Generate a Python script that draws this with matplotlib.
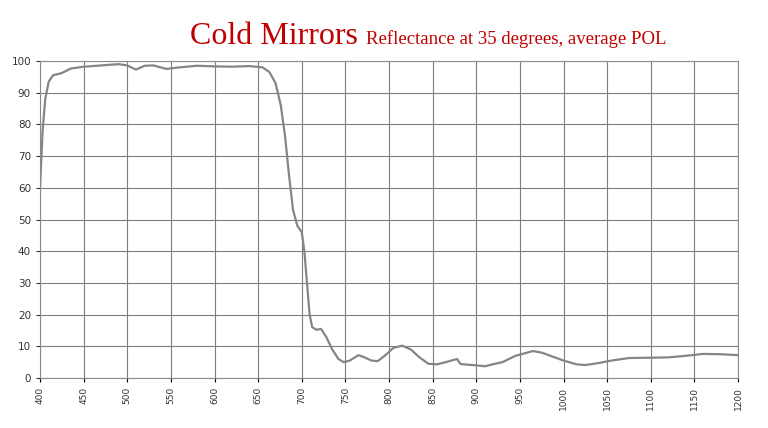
import matplotlib
matplotlib.use("Agg")
import matplotlib.pyplot as plt
import numpy as np
from matplotlib.ticker import MultipleLocator

wavelength = [400,403,406,410,415,425,435,450,470,490,500,510,520,530,545,560,580,600,620,640,655,663,670,676,681,685,690,695,700,703,706,709,712,717,722,728,735,742,748,755,765,772,780,787,795,805,815,825,835,845,855,865,878,882,890,900,910,920,930,945,965,975,990,1000,1015,1025,1040,1055,1075,1100,1120,1140,1160,1180,1200]
reflectance = [60,78,88,93.5,95.5,96.2,97.6,98.2,98.6,99.0,98.6,97.3,98.5,98.6,97.5,98.0,98.5,98.3,98.2,98.4,98.0,96.5,93,86,76,65,53,48,46,40,30,20,16,15.2,15.5,13,9,6,5,5.5,7.2,6.5,5.5,5.3,7,9.5,10.2,9,6.5,4.5,4.3,5,6,4.4,4.2,4,3.7,4.4,5,7,8.5,8,6.5,5.5,4.3,4.1,4.7,5.5,6.3,6.4,6.5,7,7.6,7.5,7.2]
xticks = list(range(400, 1201, 50))

fig = plt.figure(figsize=(7.68, 4.28), dpi=100)
ax = fig.add_axes([40/768, 1-378/428, 698/768, 317/428])
ax.plot(wavelength, reflectance, color="#858585", lw=1.6)
ax.set_xlim(400, 1200)
ax.set_ylim(0, 100)
ax.set_xticks(xticks)
ax.set_xticklabels([str(t) for t in xticks], rotation=90, fontsize=6.5, color="#333333")
ax.yaxis.set_major_locator(MultipleLocator(10))
ax.tick_params(axis="y", labelsize=7.5, colors="#333333", length=3)
ax.tick_params(axis="x", length=3)
ax.grid(True, color="#7f7f7f", lw=0.8)
for s in ax.spines.values():
    s.set_color("#8a8a8a")
fig.text(358/768, 1-44/428, "Cold Mirrors", family="Liberation Serif", fontsize=23, color="#c00000", ha="right", va="baseline")
fig.text(366/768, 1-44/428, "Reflectance at 35 degrees, average POL", family="Liberation Serif", fontsize=13.5, color="#c00000", ha="left", va="baseline")
fig.savefig("out.png", dpi=100)
